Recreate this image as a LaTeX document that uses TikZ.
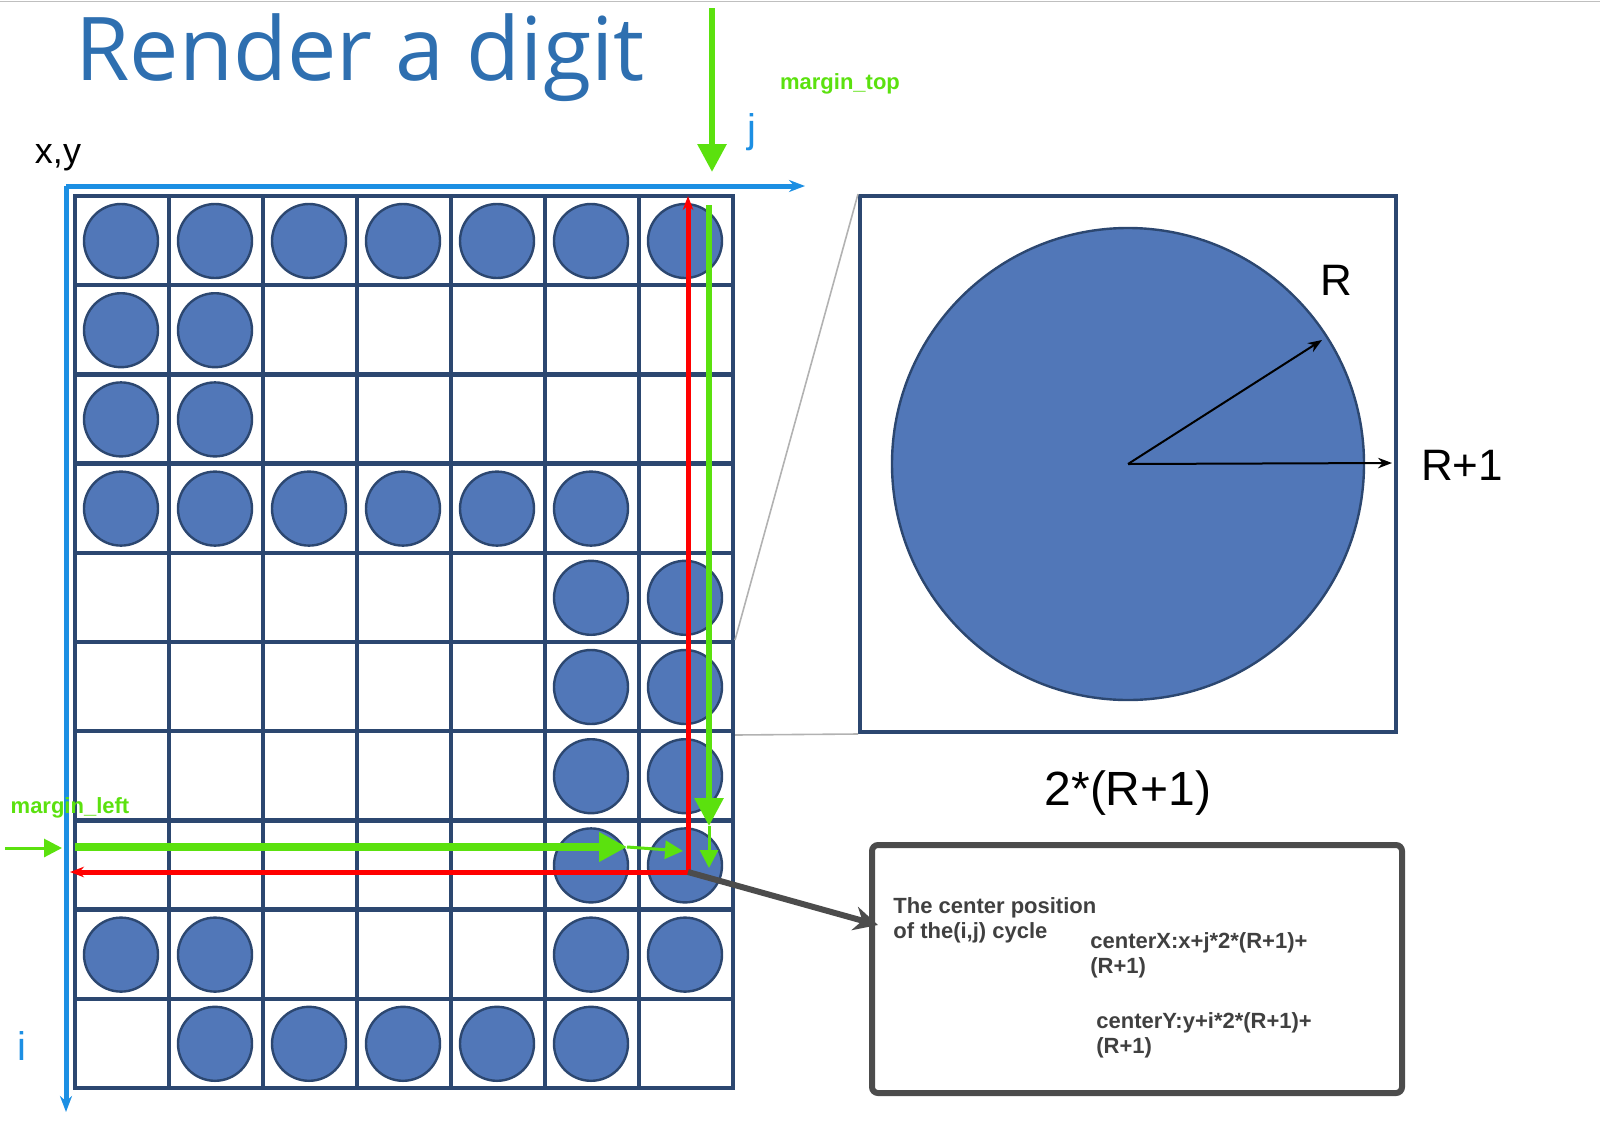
\documentclass[tikz,border=0pt]{standalone}
\usepackage{fontspec}
\setmainfont{Liberation Sans}
\newfontfamily\titlefont{Open Sans}
\usetikzlibrary{arrows.meta}
\definecolor{dotblue}{HTML}{5177B8}
\definecolor{gridnavy}{HTML}{2C4770}
\definecolor{axisblue}{HTML}{1C8FE3}
\definecolor{marggreen}{HTML}{5BE10E}
\definecolor{titleblue}{HTML}{2E6FB0}
\tikzstyle{cell} = [draw=gridnavy, line width=2.2pt]
\tikzstyle{dot} = [fill=dotblue, draw=gridnavy, line width=1.2pt]
\tikzstyle{axis} = [axisblue, line width=2.5pt, -{Stealth[length=8pt]}]
\tikzstyle{garrow} = [marggreen, line width=3pt, -{Triangle[length=14pt,width=14pt]}]
\tikzstyle{rarrow} = [red, line width=2.5pt, -{Stealth[length=7pt]}]
\tikzstyle{glabel} = [text=marggreen, font=\bfseries\fontsize{11}{11}\selectfont]
\begin{document}
\begin{tikzpicture}[x=0.5pt, y=-0.5pt]
    \useasboundingbox (0,0) rectangle (1600,1146);
    \draw[gray!50] (0,1) -- (1600,1);
    \node(title)[text=titleblue, font=\titlefont\fontsize{44}{44}\selectfont] at (360,58) {Render a digit};
    %
    % grid with the digit
    \foreach \r/\cols in {0/{0,1,2,3,4,5,6}, 1/{0,1}, 2/{0,1}, 3/{0,1,2,3,4,5}, 4/{5,6}, 5/{5,6}, 6/{5,6}, 7/{5,6}, 8/{0,1,5,6}, 9/{1,2,3,4,5}}
      \foreach \c in \cols
        \fill[dot] (121+94*\c, 241+89.2*\r) circle (37);
    \foreach \c in {0,...,6}
      \foreach \r in {0,...,9}
        \draw[cell] (75+94*\c, 196+89.2*\r) rectangle ++(94,89.2);
    %
    % axes
    \coordinate (o) at (66,186);
    \coordinate (xend) at (805,186);
    \coordinate (yend) at (66,1112);
    \draw[axis] (o) -- (xend);
    \draw[axis] (o) -- (yend);
    \node(xy) [font=\fontsize{18}{18}\selectfont] at (58,158) {x,y};
    \node(jlab) [text=axisblue, font=\fontsize{20}{20}\selectfont] at (752,132) {j};
    \node(ilab) [text=axisblue, font=\fontsize{20}{20}\selectfont] at (22,1046) {i};
    %
    % margins
    \coordinate (mt0) at (712,8);
    \coordinate (mt1) at (712,172);
    \draw[garrow] (mt0) -- (mt1);
    \node(mtop) [glabel] at (840,84) {margin\_top};
    \coordinate (ml0) at (5,848);
    \coordinate (ml1) at (62,848);
    \draw[marggreen, line width=1.5pt, -{Triangle[length=9pt,width=9pt]}] (ml0) -- (ml1);
    \node(mleft) [glabel] at (70,808) {margin\_left};
    %
    % offsets to the cell centre
    \coordinate (cc) at (688,872);
    \coordinate (rtop) at (688,196);
    \coordinate (rleft) at (70,872);
    \draw[rarrow] (cc) -- (rtop);
    \draw[rarrow] (cc) -- (rleft);
    \coordinate (gv0) at (709,205);
    \coordinate (gv1) at (709,826);
    \coordinate (gv2) at (709,868);
    \coordinate (gh0) at (75,847);
    \coordinate (gh1) at (627,847);
    \coordinate (gh2) at (683,851);
    \draw[garrow] (gv0) -- (gv1);
    \draw[marggreen, line width=1.5pt, -{Triangle[length=9pt,width=9pt]}] (gv1) -- (gv2);
    \draw[garrow, line width=4pt] (gh0) -- (gh1);
    \draw[marggreen, line width=1.5pt, -{Triangle[length=9pt,width=9pt]}] (gh1) -- (gh2);
    %
    % zoomed cell
    \node(zoom) [draw=gridnavy, line width=2pt, minimum size=268pt, inner sep=0pt] at (1128,464) {};
    \draw[gray!60, line width=0.8pt] (735,640) -- (zoom.north west);
    \draw[gray!60, line width=0.8pt] (735,735) -- (zoom.south west);
    \fill[dot] (zoom.center) circle (236);
    \coordinate (rend) at (1322,340);
    \coordinate (r1end) at (1392,463);
    \draw[line width=1pt, -{Stealth[length=7pt]}] (zoom.center) -- (rend);
    \draw[line width=1pt, -{Stealth[length=7pt]}] (zoom.center) -- (r1end);
    \node(rlab) [font=\fontsize{22}{22}\selectfont] at (1336,280) {R};
    \node(r1lab) [font=\fontsize{22}{22}\selectfont] at (1462,465) {R+1};
    \node(size) [font=\fontsize{24}{24}\selectfont] at (1128,793) {2*(R+1)};
    %
    % explanation box
    \node(info) [draw=black!70, line width=3pt, rounded corners=3pt, minimum width=265pt, minimum height=124pt] at (1137,969) {};
    \draw[black!70, line width=3pt, -{Stealth[length=12pt,width=12pt]}] (cc) -- (878,925);
    \node(what) [anchor=north west, align=left, text=black!75, font=\bfseries\fontsize{11}{12.5}\selectfont, inner sep=0pt] at (893,897) {The center position\\of the(i,j) cycle};
    \node(cx) [anchor=north west, align=left, text=black!75, font=\bfseries\fontsize{11}{12.5}\selectfont, inner sep=0pt] at (1090,932) {centerX:x+j*2*(R+1)+\\(R+1)};
    \node(cy) [anchor=north west, align=left, text=black!75, font=\bfseries\fontsize{11}{12.5}\selectfont, inner sep=0pt] at (1096,1012) {centerY:y+i*2*(R+1)+\\(R+1)};
\end{tikzpicture}
\end{document}
